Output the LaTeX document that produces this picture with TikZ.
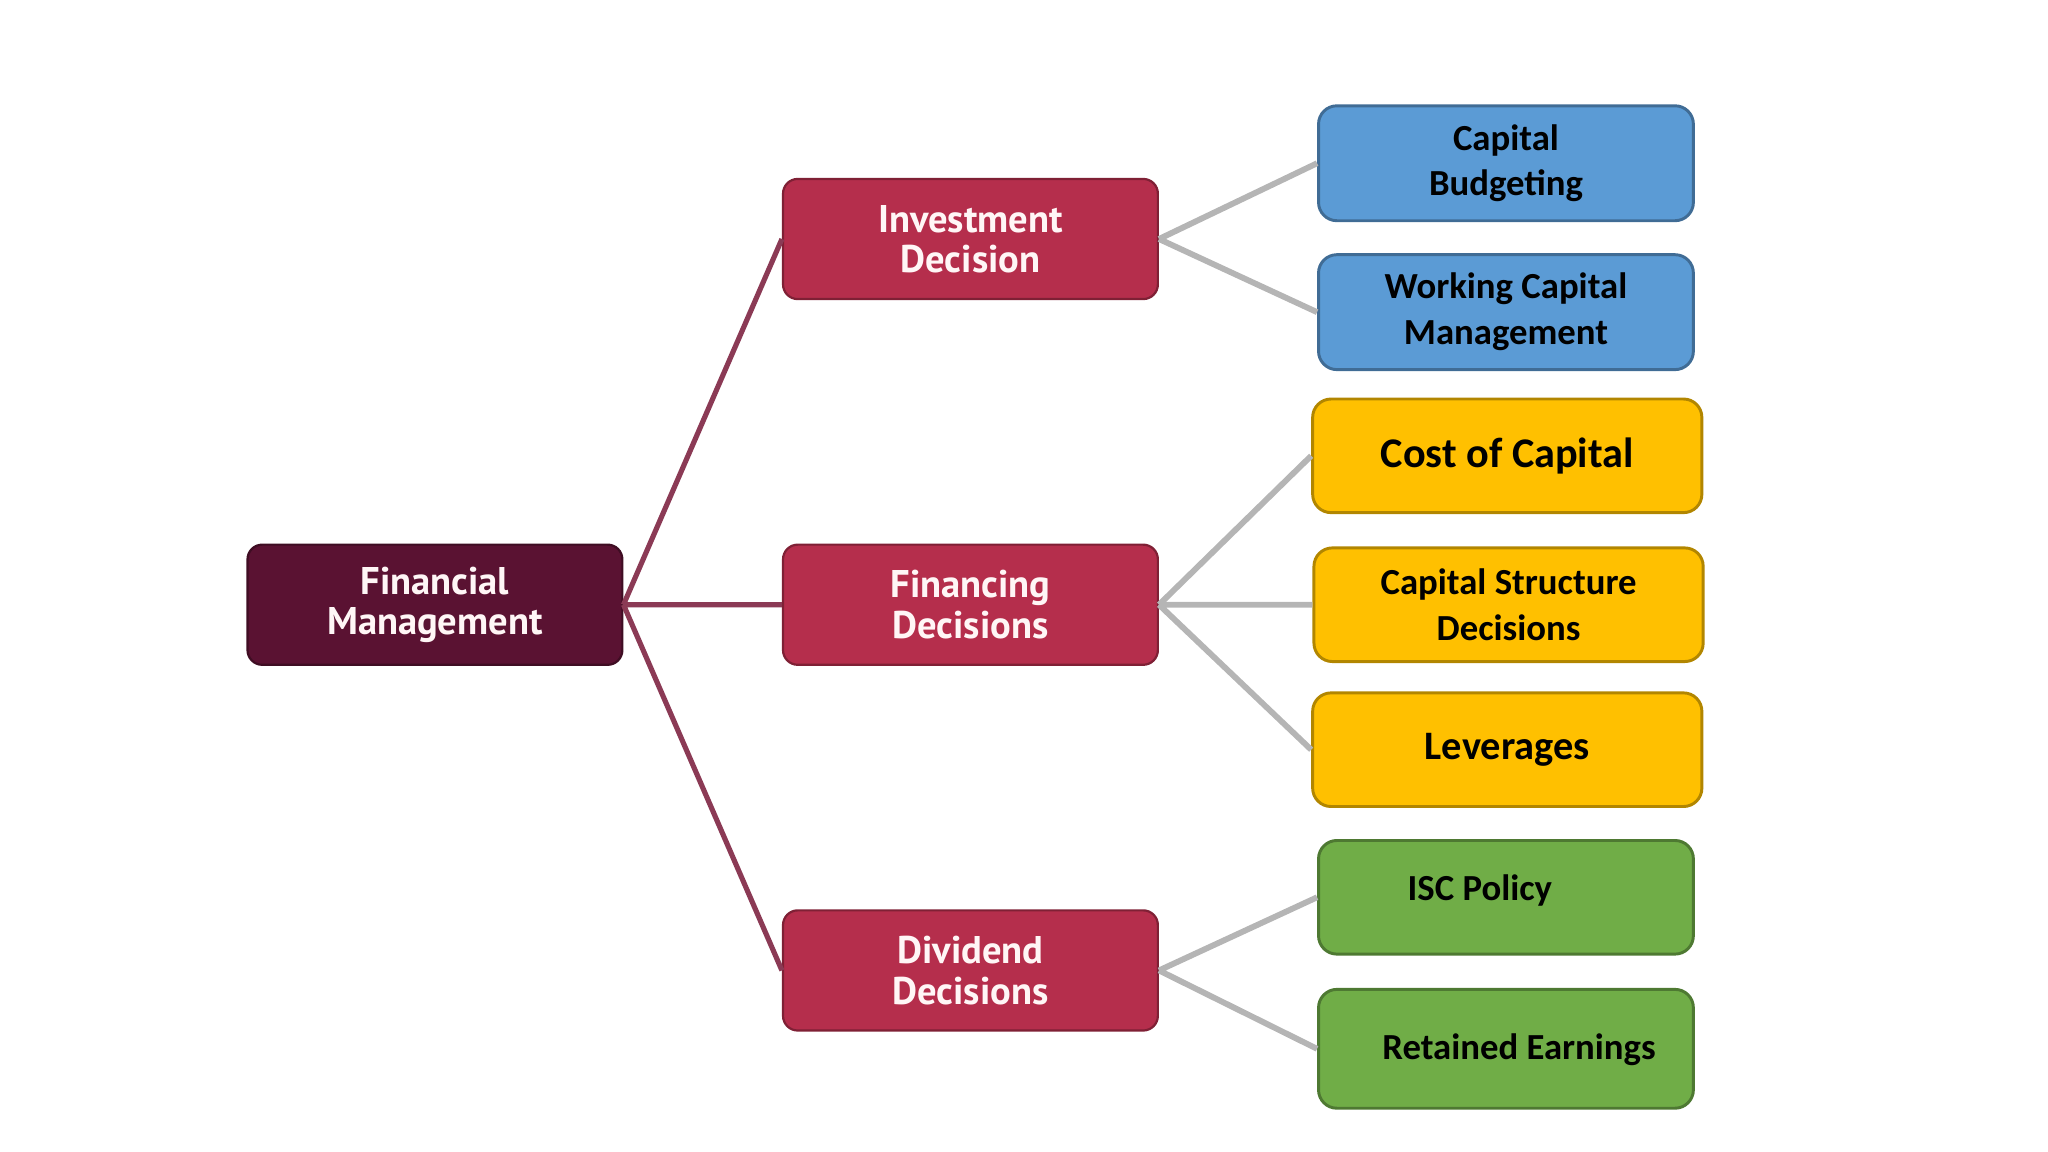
\documentclass[tikz,border=0pt]{standalone}
\usepackage{fontspec}
\setmainfont{Carlito}
\newfontfamily\leftfont{PT Sans}
\begin{document}
\begin{tikzpicture}[x=0.0125cm,y=-0.0125cm,
  lb/.style={rounded corners=4pt,draw=#1!70!black,line width=0.6pt,fill=#1,text=white,align=center,font=\leftfont\bfseries\fontsize{10.5}{11}\selectfont,inner sep=0pt},
  rb/.style={rounded corners=5pt,draw=#1!70!black,line width=0.8pt,fill=#1,text=black,align=center,font=\bfseries\fontsize{10}{12.5}\selectfont,inner sep=0pt},
  mline/.style={draw=fmline,line width=1.4pt},
  gline/.style={draw=gline,line width=1.6pt}]
\definecolor{fm}{HTML}{5A1232}
\definecolor{dr}{HTML}{B52E4C}
\definecolor{bl}{HTML}{5B9BD5}
\definecolor{yl}{HTML}{FFC000}
\definecolor{gr}{HTML}{70AD47}
\definecolor{fmline}{HTML}{8B3A55}
\definecolor{gline}{HTML}{B5B5B5}
\useasboundingbox (0,0) rectangle (1568,882);
\node[lb=fm,minimum width=287*0.0125cm,minimum height=92*0.0125cm,text=white!85!pink] (fm) at (333,463) {Financial\\Management};
\node[lb=dr,minimum width=287*0.0125cm,minimum height=92*0.0125cm,text=white!85!pink] (inv) at (743,183) {Investment\\Decision};
\node[lb=dr,minimum width=287*0.0125cm,minimum height=92*0.0125cm,text=white!85!pink] (fin) at (743,463) {Financing\\Decisions};
\node[lb=dr,minimum width=287*0.0125cm,minimum height=92*0.0125cm,text=white!85!pink] (div) at (743,743) {Dividend\\Decisions};
\node[rb=bl,minimum width=287*0.0125cm,minimum height=88*0.0125cm] (cb) at (1153,125) {Capital\\Budgeting};
\node[rb=bl,minimum width=287*0.0125cm,minimum height=88*0.0125cm] (wc) at (1153,239) {Working Capital\\Management};
\node[rb=yl,minimum width=298*0.0125cm,minimum height=87*0.0125cm,font=\bfseries\fontsize{11.5}{13}\selectfont] (cc) at (1154,349) {Cost of Capital};
\node[rb=yl,minimum width=298*0.0125cm,minimum height=87*0.0125cm] (cs) at (1155,463) {Capital Structure\\Decisions};
\node[rb=yl,minimum width=298*0.0125cm,minimum height=87*0.0125cm,font=\bfseries\fontsize{11}{13}\selectfont] (lev) at (1154,574) {Leverages};
\node[rb=gr,minimum width=287*0.0125cm,minimum height=87*0.0125cm] (isc) at (1153,687) {};
\node[font=\bfseries\fontsize{10}{12}\selectfont] (isct) at (1133,682) {ISC Policy};
\node[rb=gr,minimum width=287*0.0125cm,minimum height=91*0.0125cm] (re) at (1153,803) {};
\node[font=\bfseries\fontsize{10}{12}\selectfont] (ret) at (1163,804) {Retained Earnings};
\path[mline] (fm.east) -- (inv.west) (fm.east) -- (fin.west) (fm.east) -- (div.west);
\path[gline] (inv.east) -- (cb.west) (inv.east) -- (wc.west);
\path[gline] (fin.east) -- (cc.west) (fin.east) -- (cs.west) (fin.east) -- (lev.west);
\path[gline] (div.east) -- (isc.west) (div.east) -- (re.west);
\end{tikzpicture}
\end{document}
